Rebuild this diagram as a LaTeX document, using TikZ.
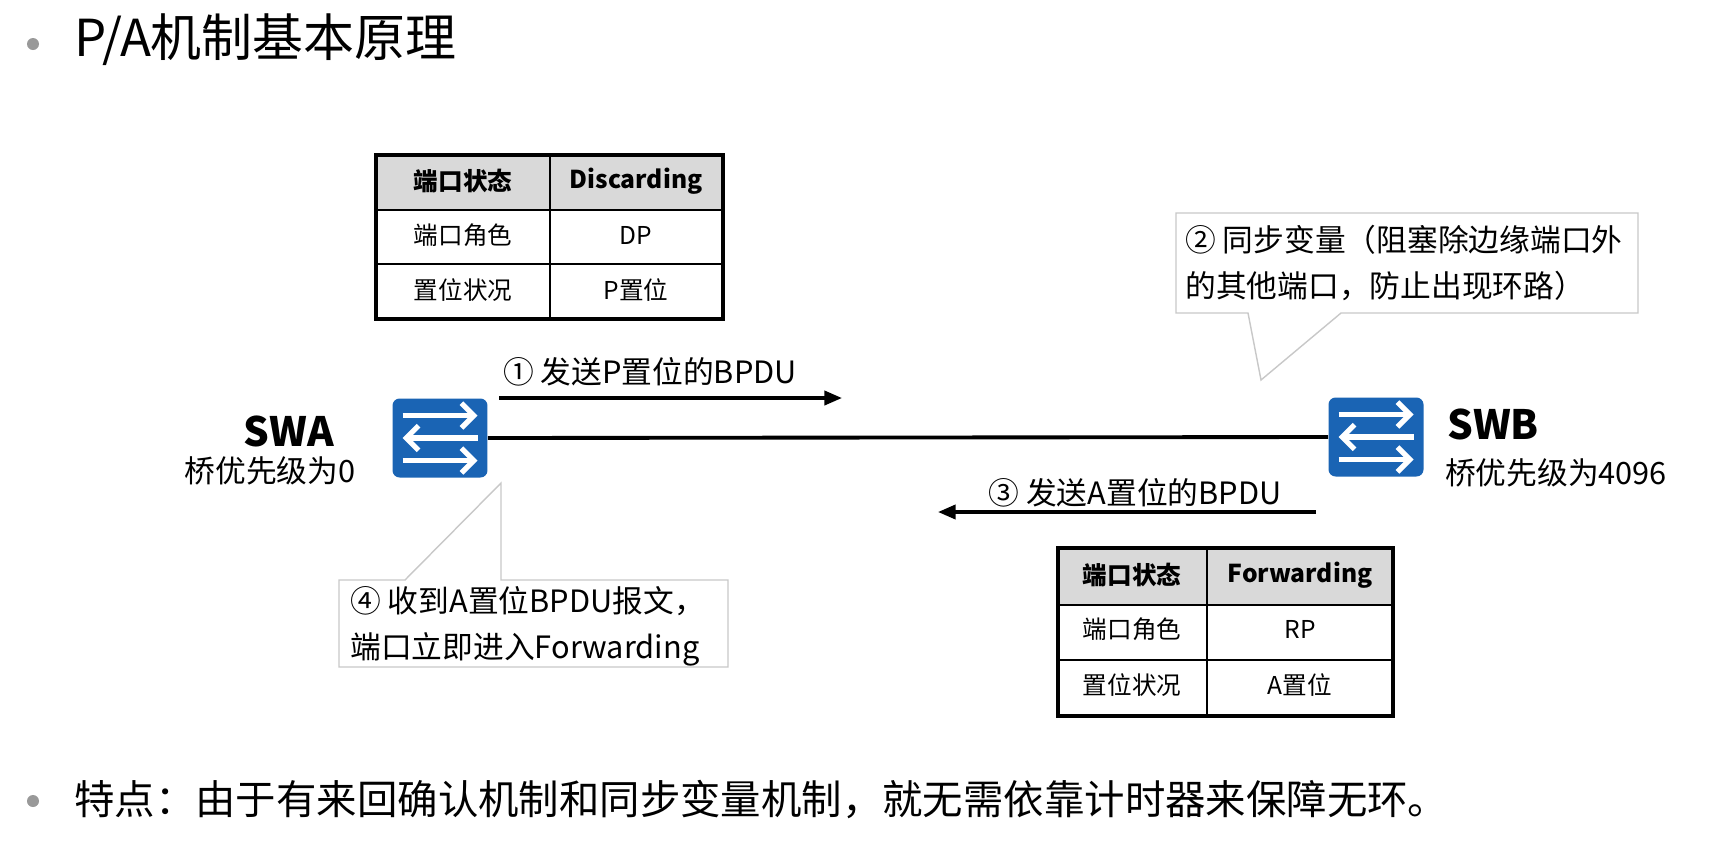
\documentclass[tikz,border=0pt]{standalone}
\usepackage{fontspec}
\setmainfont{Noto Sans CJK SC}
\usetikzlibrary{arrows.meta}
\definecolor{swblue}{HTML}{1A64B4}
\definecolor{hdr}{HTML}{D9D9D9}
\definecolor{cbord}{HTML}{C8C8C8}
\tikzset{
 px/.style={x=0.02cm,y=-0.02cm},
 tb/.style={font=\fontsize{14}{16}\selectfont},
 tbh/.style={font=\fontsize{14}{16}\selectfont\bfseries},
 flow/.style={line width=2pt,-{Triangle[length=10pt,width=8pt]}},
 lbl/.style={font=\fontsize{17.5}{20}\selectfont,inner sep=0pt},
 ctext/.style={inner sep=0pt,anchor=north west,align=left,font=\fontsize{17.5}{26}\selectfont},
 callout/.style={draw=cbord,fill=white,line width=0.8pt},
 swarrow/.style={white,line width=3.2pt,-{Straight Barb[length=7pt,width=14pt,line width=3pt]}}
}
\newcommand{\swicon}[3]{%
 \node[fill=swblue,rounded corners=4pt,minimum width=1.9cm,minimum height=1.58cm,inner sep=0pt] (#1) at (#2,#3) {};
 \draw[swarrow] ([xshift=-0.75cm,yshift=0.45cm]#1.center) -- ([xshift=0.75cm,yshift=0.45cm]#1.center);
 \draw[swarrow] ([xshift=0.75cm]#1.center) -- ([xshift=-0.75cm]#1.center);
 \draw[swarrow] ([xshift=-0.75cm,yshift=-0.45cm]#1.center) -- ([xshift=0.75cm,yshift=-0.45cm]#1.center);
}
\begin{document}
\begin{tikzpicture}[px]
\useasboundingbox (0,0) rectangle (1709,859);
\fill[white] (0,0) rectangle (1709,859);
\fill[gray!80] (33,44) circle (6);
\node[anchor=west,inner sep=0pt,font=\fontsize{29}{34}\selectfont] (title) at (74,40) {P/A机制基本原理};
% table 1
\fill[hdr] (376,155) rectangle (723,210);
\draw[line width=2.2pt] (376,155) rectangle (723,319);
\draw[line width=1.4pt] (376,210) -- (723,210) (376,264) -- (723,264) (550,155) -- (550,319);
\node[tbh] (t1a) at (463,181) {端口状态};
\node[tbh] (t1b) at (636,181) {Discarding};
\node[tb] (t1c) at (463,235) {端口角色};
\node[tb] (t1d) at (636,235) {DP};
\node[tb] (t1e) at (463,290) {置位状况};
\node[tb] (t1f) at (636,290) {P置位};
% table 2
\fill[hdr] (1058,548) rectangle (1393,605);
\draw[line width=2.2pt] (1058,548) rectangle (1393,716);
\draw[line width=1.4pt] (1058,605) -- (1393,605) (1058,660) -- (1393,660) (1207,548) -- (1207,716);
\node[tbh] (t2a) at (1132,575) {端口状态};
\node[tbh] (t2b) at (1300,575) {Forwarding};
\node[tb] (t2c) at (1132,629) {端口角色};
\node[tb] (t2d) at (1300,629) {RP};
\node[tb] (t2e) at (1132,685) {置位状况};
\node[tb] (t2f) at (1300,685) {A置位};
% switches
\swicon{swa}{440}{438}
\swicon{swb}{1376}{437}
\draw[line width=2.2pt] (swa.east) -- (swb.west);
\node[font=\fontsize{23}{27}\selectfont\bfseries,inner sep=0pt] (swal) at (289,431) {SWA};
\node[font=\fontsize{17.5}{20}\selectfont,inner sep=0pt] (swap) at (270,471) {桥优先级为0};
\node[font=\fontsize{23}{27}\selectfont\bfseries,inner sep=0pt] (swbl) at (1493,424) {SWB};
\node[font=\fontsize{17.5}{20}\selectfont,inner sep=0pt] (swbp) at (1556,473) {桥优先级为4096};
% flows
\coordinate (f1s) at (499,398); \coordinate (f1e) at (842,398);
\draw[flow] (f1s) -- (f1e);
\node[lbl] (f1l) at (650,372) {① 发送P置位的BPDU};
\coordinate (f3s) at (1316,512); \coordinate (f3e) at (938,512);
\draw[flow] (f3s) -- (f3e);
\node[lbl] (f3l) at (1135,493) {③ 发送A置位的BPDU};
% callout 2
\draw[callout] (1176,213) -- (1638,213) -- (1638,313) -- (1341,313) -- (1261,380) -- (1248,313) -- (1176,313) -- cycle;
\node[ctext] (c2) at (1185,225) {② 同步变量（阻塞除边缘端口外\\的其他端口，防止出现环路）};
% callout 4
\draw[callout] (339,580) -- (405,580) -- (501,483) -- (501,580) -- (728,580) -- (728,667) -- (339,667) -- cycle;
\node[ctext] (c4) at (350,586) {④ 收到A置位BPDU报文，\\端口立即进入Forwarding};
% bottom
\fill[gray!80] (33,801) circle (6);
\node[anchor=west,inner sep=0pt,font=\fontsize{23}{27}\selectfont] (note) at (74,799) {特点：由于有来回确认机制和同步变量机制，就无需依靠计时器来保障无环。};
\end{tikzpicture}
\end{document}
